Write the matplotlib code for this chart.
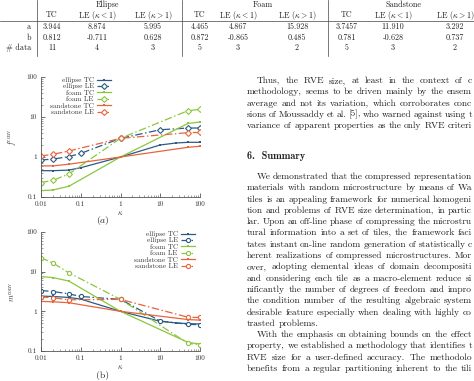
import matplotlib
matplotlib.use('Agg')
import matplotlib.pyplot as plt
from matplotlib.lines import Line2D
from matplotlib.ticker import FixedLocator, FixedFormatter, LogLocator, NullFormatter

plt.rcParams['font.family'] = ['cmr10', 'DejaVu Serif']
plt.rcParams['mathtext.fontset'] = 'cm'
plt.rcParams['axes.unicode_minus'] = False
plt.rcParams['axes.formatter.use_mathtext'] = True

# ---------------- table data ----------------
groups = ['Ellipse', 'Foam', 'Sandstone']
col_heads = ['TC', r'LE ($\kappa < 1$)', r'LE ($\kappa > 1$)'] * 3
row_labels = ['a', 'b', '# data']
a_vals = ['3.944', '8.874', '5.995', '4.465', '4.867', '15.928', '3.7457', '11.910', '3.292']
b_vals = ['0.812', '-0.711', '0.628', '0.872', '-0.865', '0.485', '0.781', '-0.628', '0.737']
n_data = ['11', '4', '3', '5', '3', '2', '5', '3', '2']

# ---------------- chart data ----------------
k_ellipse_tc = [0.01, 0.02, 0.05, 0.1, 1, 10, 25, 50, 100]
k_ellipse_le = [0.01, 0.02, 0.05, 0.1, 1, 10, 50, 100]
k_foam = [0.01, 0.02, 0.05, 1, 50, 100]
k_sand = [0.01, 0.02, 0.05, 1, 50, 100]

# (a) f
fa_ellipse_tc = [0.455, 0.455, 0.47, 0.54, 1.0, 2.0, 2.24, 2.33, 2.33]
fa_ellipse_le = [0.84, 0.89, 1.02, 1.23, 2.93, 4.8, 5.3, 5.3]
fa_foam_tc = [0.144, 0.15, 0.185, 1.0, 6.9, 7.5]
fa_foam_le = [0.23, 0.26, 0.376, 2.93, 14.4, 15.5]
fa_sand_tc = [0.6, 0.6, 0.66, 1.0, 1.75, 1.85]
fa_sand_le = [1.06, 1.17, 1.41, 2.93, 4.06, 4.1]

# (b) m
mb_ellipse_tc = [2.42, 2.37, 2.24, 2.03, 1.0, 0.56, 0.51, 0.49, 0.48]
mb_ellipse_le = [3.35, 3.16, 2.76, 2.37, 2.0, 0.57, 0.47, 0.46]
mb_foam_tc = [7.5, 7.1, 5.8, 1.0, 0.165, 0.15]
mb_foam_le = [22.4, 16.5, 9.4, 2.0, 0.155, 0.145]
mb_sand_tc = [1.78, 1.74, 1.65, 1.0, 0.62, 0.6]
mb_sand_le = [2.3, 2.2, 1.95, 2.0, 0.71, 0.7]

tick_vals = [0.01, 0.1, 1, 10, 100]
x_tick_labels = ['0.01', '0.1', '1', '10', '100']
y_tick_vals = [0.1, 1, 10, 100]
y_tick_labels = ['0.1', '1', '10', '100']

legend_labels = ['ellipse TC', 'ellipse LE', 'foam TC', 'foam LE', 'sandstone TC', 'sandstone LE']

# ---------------- right-hand text ----------------
para1 = [
    'Thus, the RVE size, at least in the context of c',
    'methodology, seems to be driven mainly by the ensem',
    'average and not its variation, which corroborates conc',
    'sions of Moussaddy et al. [5], who warned against using t',
    'variance of apparent properties as the only RVE criteri',
]
heading = '6.  Summary'
para2 = [
    'We demonstrated that the compressed representation',
    'materials with random microstructure by means of Wa',
    'tiles is an appealing framework for numerical homogeni',
    'tion and problems of RVE size determination, in partic',
    'lar. Upon an off-line phase of compressing the microstru',
    'tural information into a set of tiles, the framework faci',
    'tates instant on-line random generation of statistically c',
    'herent realizations of compressed microstructures. Mor',
    'over, adopting elemental ideas of domain decompositi',
    'and considering each tile as a macro-element reduce si',
    'nificantly the number of degrees of freedom and impro',
    'the condition number of the resulting algebraic system',
    'desirable feature especially when dealing with highly co',
    'trasted problems.',
    'With the emphasis on obtaining bounds on the effect',
    'property, we established a methodology that identifies t',
    'RVE size for a user-defined accuracy.  The methodolo',
    'benefits from a regular partitioning inherent to the tili',
]
para2_indent = [0, 14]
para2_ragged = [13]

W, H = 474, 381
fig = plt.figure(figsize=(W / 100, H / 100), dpi=100)
fig.patch.set_facecolor('white')
renderer = fig.canvas.get_renderer()


def fx(x):
    return x / W


def fy(y):
    return 1 - y / H


def ftext(x, y, s, **kw):
    kw.setdefault('fontsize', 5.8)
    kw.setdefault('color', '#222222')
    return fig.text(fx(x), fy(y), s, **kw)


def justified(x0, y, line, x1, fs, ragged=False):
    words = line.split()
    texts, widths = [], []
    for w in words:
        t = ftext(0, y, w, fontsize=fs, ha='left', va='center')
        widths.append(t.get_window_extent(renderer).width)
        texts.append(t)
    space = ftext(0, 0, 'a a', fontsize=fs).get_window_extent(renderer).width - \
        2 * ftext(0, 0, 'a', fontsize=fs).get_window_extent(renderer).width
    fig.texts[-2].remove()
    fig.texts[-1].remove()
    if ragged or len(words) < 2:
        gap = space
    else:
        gap = (x1 - x0 - sum(widths)) / (len(words) - 1)
    x = x0
    for t, w in zip(texts, widths):
        t.set_position((fx(x), fy(y)))
        x += w + gap


# ---------------- table ----------------
tab_cols = [52, 97, 153, 200, 238, 297, 347, 393, 455]
group_x = [107, 263, 403]
for g, x in zip(groups, group_x):
    ftext(x, 5, g, ha='center', va='center')
for h, x in zip(col_heads, tab_cols):
    ftext(x, 15, h, ha='center', va='center')
for lab, y, vals in zip(row_labels, [27, 37.5, 48], [a_vals, b_vals, n_data]):
    ftext(31, y, lab, ha='right', va='center')
    for v, x in zip(vals, tab_cols):
        ftext(x, y, v, ha='center', va='center')
lc = '#444444'
fig.add_artist(Line2D([fx(0), fx(W)], [fy(21), fy(21)], transform=fig.transFigure, color=lc, lw=0.5))
for xv in [37, 182, 328]:
    fig.add_artist(Line2D([fx(xv), fx(xv)], [fy(0), fy(56)], transform=fig.transFigure, color=lc, lw=0.5))

# ---------------- plots ----------------
c_ell = '#2b5b84'
c_foam = '#8cc63e'
c_sand = '#e8643c'


def draw(ax, series, le_marker, ylabel, leg_anchor):
    (e_tc, e_le, f_tc, f_le, s_tc, s_le) = series
    ls_le = (0, (6, 2, 1.2, 2))
    kw_tc = dict(lw=0.9, marker='s', ms=2.0, mew=0)
    kw_le = dict(lw=0.9, ls=ls_le, marker=le_marker, ms=3.0, mew=0.8, mfc='white')
    ax.plot(k_ellipse_tc, e_tc, color=c_ell, label=legend_labels[0], **kw_tc)
    ax.plot(k_ellipse_le, e_le, color=c_ell, mec=c_ell, label=legend_labels[1], **kw_le)
    ax.plot(k_foam, f_tc, color=c_foam, label=legend_labels[2], **kw_tc)
    ax.plot(k_foam, f_le, color=c_foam, mec=c_foam, label=legend_labels[3], **kw_le)
    ax.plot(k_sand, s_tc, color=c_sand, label=legend_labels[4], **kw_tc)
    ax.plot(k_sand, s_le, color=c_sand, mec=c_sand, label=legend_labels[5], **kw_le)
    ax.set_xscale('log')
    ax.set_yscale('log')
    ax.set_xlim(0.01, 100)
    ax.set_ylim(0.1, 100)
    for sp in ['top', 'right']:
        ax.spines[sp].set_visible(False)
    for sp in ['left', 'bottom']:
        ax.spines[sp].set_linewidth(0.6)
        ax.spines[sp].set_color('#555555')
    ax.xaxis.set_major_locator(FixedLocator(tick_vals))
    ax.xaxis.set_major_formatter(FixedFormatter(x_tick_labels))
    ax.yaxis.set_major_locator(FixedLocator(y_tick_vals))
    ax.yaxis.set_major_formatter(FixedFormatter(y_tick_labels))
    ax.xaxis.set_minor_locator(LogLocator(base=10, subs=range(2, 10)))
    ax.yaxis.set_minor_locator(LogLocator(base=10, subs=range(2, 10)))
    ax.xaxis.set_minor_formatter(NullFormatter())
    ax.yaxis.set_minor_formatter(NullFormatter())
    ax.tick_params(which='major', direction='in', length=3, width=0.5, labelsize=5.2, pad=3,
                   colors='#333333')
    ax.tick_params(which='minor', direction='in', length=1.5, width=0.4, colors='#555555')
    ax.set_xlabel(r'$\kappa$', fontsize=5.5, labelpad=1.5, color='#333333')
    ax.set_ylabel(ylabel, fontsize=5.5, labelpad=6, color='#333333')
    ax.legend(loc='upper right', bbox_to_anchor=(fx(leg_anchor[0]), fy(leg_anchor[1])),
              bbox_transform=fig.transFigure, frameon=False, fontsize=5.2, markerfirst=False,
              handlelength=2.0, handletextpad=0.4, labelspacing=0.05, borderpad=0,
              borderaxespad=0, labelcolor='#333333')


ax1 = fig.add_axes([fx(41), fy(197), 159 / W, 120 / H])
draw(ax1, (fa_ellipse_tc, fa_ellipse_le, fa_foam_tc, fa_foam_le, fa_sand_tc, fa_sand_le),
     'D', r'$f^{\rm conv}$', (111, 77))
ax2 = fig.add_axes([fx(41), fy(351), 159 / W, 119 / H])
draw(ax2, (mb_ellipse_tc, mb_ellipse_le, mb_foam_tc, mb_foam_le, mb_sand_tc, mb_sand_le),
     'o', r'$m^{\rm conv}$', (195, 231))

ftext(103, 220, r'($a$)', fontsize=7, ha='center', va='center')
ftext(103, 375, '(b)', fontsize=7, ha='center', va='center')

# ---------------- right text ----------------
tfs = 6.8
right_edge = 472
for i, line in enumerate(para1):
    x = 257 if i == 0 else 247
    justified(x, 80.7 + 11.3 * i, line, right_edge, tfs)
fig.text(fx(247), fy(156), heading, fontsize=7.4, family='cmb10', ha='left', va='center',
         color='#222222')
for i, line in enumerate(para2):
    x = 257 if i in para2_indent else 247
    justified(x, 176.7 + 11.3 * i, line, right_edge, tfs, ragged=(i in para2_ragged))

fig.savefig('out.png', dpi=100, facecolor='white')
